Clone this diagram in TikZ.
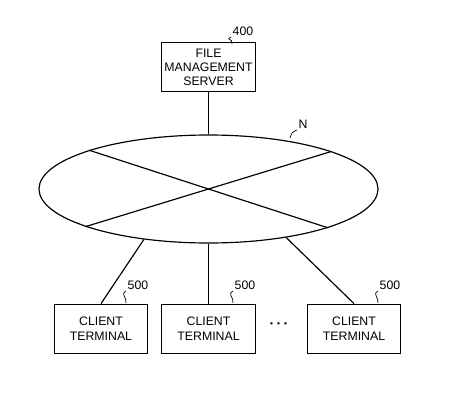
\documentclass[tikz,border=0pt]{standalone}
\usepackage{fontspec}
\setmainfont{Liberation Sans}
\usetikzlibrary{positioning, shapes.geometric}
\tikzset{
  box/.style={
    rectangle, draw=black, line width=1pt,
    minimum width=2.8cm, minimum height=1.47cm,
    align=center, inner sep=1pt,
    font=\fontsize{10.5}{12}\selectfont
  },
  net/.style={
    ellipse, draw=black, line width=1pt,
    minimum width=10.17cm, minimum height=3.24cm, inner sep=0pt
  },
  tag/.style={font=\fontsize{10.5}{12}\selectfont, inner sep=1pt},
  leader/.style={line width=0.6pt}
}

\begin{document}
\begin{tikzpicture}[x=0.03cm, y=-0.03cm, line width=1pt]
  \useasboundingbox (0,0) rectangle (474,409);

  \node[net] (net) at (208.5,189) {};
  \node[box] (server) [above=1.26cm of net] {FILE\\MANAGEMENT\\SERVER};
  \node[box] (client2) [below=1.8cm of net] {CLIENT\\TERMINAL};
  \node[box] (client1) [left=0.39cm of client2] {CLIENT\\TERMINAL};
  \node[box] (client3) [right=1.53cm of client2] {CLIENT\\TERMINAL};
  \node[font=\bfseries\large] (dots) at (279,326) {\textperiodcentered\,\textperiodcentered\,\textperiodcentered};

  % the cross inside the network
  \draw (net.162.3) -- (net.342.3);
  \draw (net.17.7) -- (net.197.7);

  \path
  (server.south) edge (net.north)
  (client1.north) edge (net.218.8)
  (client2.north) edge (net.south)
  (client3.north) edge (net.328.4);

  % reference signs
  \node[tag] (t400) at (243,31) {400};
  \node[tag] (tN) at (303,124) {N};
  \node[tag] (t500a) at (138,285) {500};
  \node[tag] (t500b) at (245,285) {500};
  \node[tag] (t500c) at (390,285) {500};

  \coordinate (p400) at (232,44);
  \coordinate (pN) at (290,138);
  \coordinate (p500a) at (126,303);
  \coordinate (p500b) at (233,303);
  \coordinate (p500c) at (378,303);

  \draw[leader] (p400) .. controls +(1,-6) and +(-6,3) .. (t400.south west);
  \draw[leader] (pN) .. controls +(2,-5) and +(-6,3) .. (tN.south west);
  \draw[leader] (p500a) .. controls +(1,-6) and +(-6,3) .. (t500a.south west);
  \draw[leader] (p500b) .. controls +(1,-6) and +(-6,3) .. (t500b.south west);
  \draw[leader] (p500c) .. controls +(1,-6) and +(-6,3) .. (t500c.south west);
\end{tikzpicture}
\end{document}
